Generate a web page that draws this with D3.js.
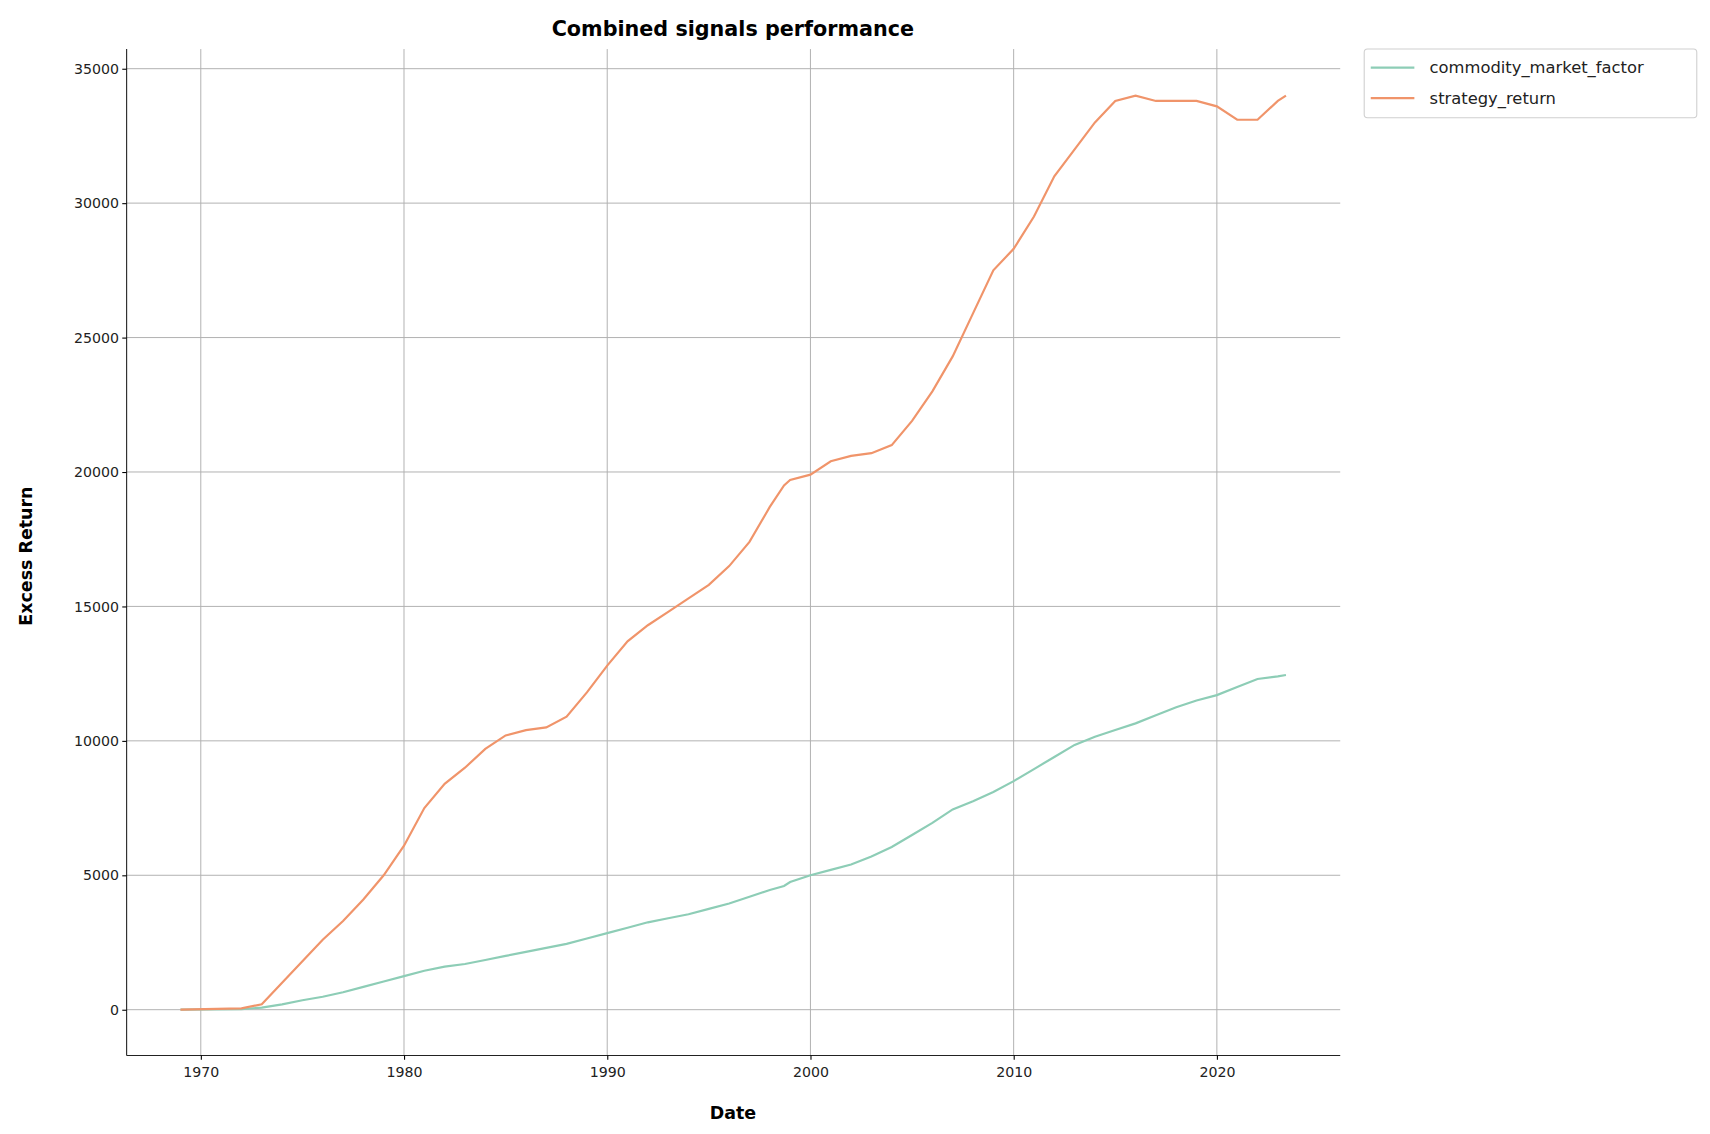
<!DOCTYPE html>
<html><head><meta charset="utf-8">
<script src="https://cdn.jsdelivr.net/npm/d3@7"></script>
<style>body{margin:0;background:#fff}text{font-family:"DejaVu Sans",sans-serif}</style>
</head><body>
<svg id="chart" width="1710" height="1134" viewBox="0 0 1568 1040"></svg>
<script>
const years = [1969,1972,1973,1974,1975,1976,1977,1978,1979,1980,1981,1982,1983,1984,1985,1986,1987,1988,1989,1990,1991,1992,1993,1994,1995,1996,1997,1998,1998.7,1999,2000,2001,2002,2003,2004,2005,2006,2007,2008,2009,2010,2011,2012,2013,2014,2015,2016,2017,2018,2019,2020,2021,2022,2023,2023.4];
const strategyReturn = [0,50,200,1000,1800,2600,3300,4100,5000,6100,7500,8400,9000,9700,10200,10400,10500,10900,11800,12800,13700,14300,14800,15300,15800,16500,17400,18700,19500,19700,19900,20400,20600,20700,21000,21900,23000,24300,25900,27500,28300,29500,31000,32000,33000,33800,34000,33800,33800,33800,33600,33100,33100,33800,34000];
const commodityFactor = [0,20,80,200,350,480,650,850,1050,1250,1450,1600,1700,1850,2000,2150,2300,2450,2650,2850,3050,3250,3400,3550,3750,3950,4200,4450,4600,4750,5000,5200,5400,5700,6050,6500,6950,7450,7750,8100,8500,8950,9400,9850,10150,10400,10650,10950,11250,11500,11700,12000,12300,12400,12450];
const seriesNames = ["commodity_market_factor", "strategy_return"];
const colors = ["#8dcdb6", "#f0946a"];
const yTicks = [0,5000,10000,15000,20000,25000,30000,35000];
const xTicks = [1970,1980,1990,2000,2010,2020];

const svg = d3.select('#chart');
const plotLeft = 116, plotRight = 1229, plotTop = 45, plotBottom = 968;
const x = d3.scaleLinear().domain([1966.35, 2026.07]).range([plotLeft, plotRight]);
const y = d3.scaleLinear().domain([0, 35000]).range([926, 63]);

// grid
svg.append('g').selectAll('line').data(xTicks).join('line')
    .attr('x1', d => x(d)).attr('x2', d => x(d)).attr('y1', plotTop).attr('y2', plotBottom)
    .attr('stroke', '#b0b0b0').attr('stroke-width', 0.9);
svg.append('g').selectAll('line').data(yTicks).join('line')
    .attr('x1', plotLeft).attr('x2', plotRight).attr('y1', d => y(d)).attr('y2', d => y(d))
    .attr('stroke', '#b0b0b0').attr('stroke-width', 0.9);

// axes
const xAxis = svg.append('g').attr('transform', `translate(0,${plotBottom})`)
    .call(d3.axisBottom(x).tickValues(xTicks).tickFormat(d3.format('d')).tickSize(4).tickSizeOuter(0));
const yAxis = svg.append('g').attr('transform', `translate(${plotLeft},0)`)
    .call(d3.axisLeft(y).tickValues(yTicks).tickFormat(d3.format('d')).tickSize(4).tickSizeOuter(0));
[xAxis, yAxis].forEach(a => {
    a.selectAll('text').attr('font-size', 13).attr('fill', '#222').style('font-family', '"DejaVu Sans",sans-serif');
    a.select('.domain').attr('stroke', '#222');
});
xAxis.selectAll('text').attr('dy', '1.0em');
yAxis.select('.domain').attr('d', `M0,${plotTop}V${plotBottom}`);
xAxis.select('.domain').attr('d', `M${plotLeft},0H${plotRight}`);

// lines
const line = vals => d3.line().x((d, i) => x(years[i])).y(d => y(d))(vals);
[commodityFactor, strategyReturn].forEach((vals, i) => {
    svg.append('path').attr('d', line(vals)).attr('fill', 'none')
        .attr('stroke', colors[i]).attr('stroke-width', 2);
});

// titles
svg.append('text').attr('x', 672).attr('y', 33).attr('text-anchor', 'middle')
    .attr('font-size', 19).attr('font-weight', 'bold').text('Combined signals performance');
svg.append('text').attr('x', 672).attr('y', 1026).attr('text-anchor', 'middle')
    .attr('font-size', 16).attr('font-weight', 'bold').text('Date');
svg.append('text').attr('transform', 'translate(29,510) rotate(-90)').attr('text-anchor', 'middle')
    .attr('font-size', 16).attr('font-weight', 'bold').text('Excess Return');

// legend
const lg = svg.append('g');
lg.append('rect').attr('x', 1251).attr('y', 45).attr('width', 305).attr('height', 63).attr('rx', 3)
    .attr('fill', '#fff').attr('stroke', '#d0d0d0');
seriesNames.forEach((n, i) => {
    const yy = 62 + i * 28;
    lg.append('line').attr('x1', 1257).attr('x2', 1297).attr('y1', yy).attr('y2', yy)
        .attr('stroke', colors[i]).attr('stroke-width', 2);
    lg.append('text').attr('x', 1311).attr('y', yy + 5).attr('font-size', 15).attr('fill', '#222').text(n);
});
</script>
</body></html>
